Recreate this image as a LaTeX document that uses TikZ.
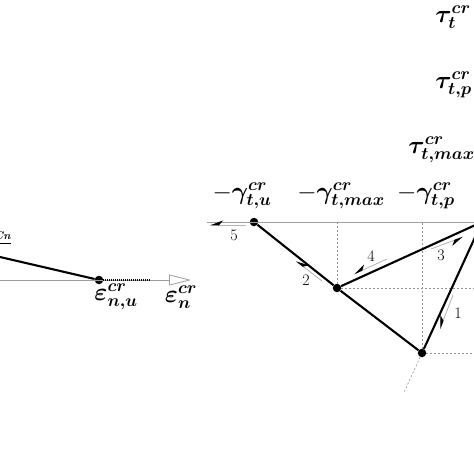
\documentclass[tikz,border=0pt]{standalone}
\usepackage{amsmath}
\usepackage{bm}
\usetikzlibrary{arrows.meta}
\usetikzlibrary{calc}
\tikzset{
    axisline/.style = {draw=gray!75,line width=0.8pt},
    branch/.style = {draw=black,line width=2.1pt},
    guide/.style = {draw=gray!85,line width=0.6pt,dash pattern=on 2pt off 2pt},
    kink/.style = {circle,fill=black,inner sep=0pt,minimum size=8.5pt},
    patharrow/.style = {draw=gray!60,line width=0.8pt,-{Stealth[harpoon,swap,length=12pt,width=9pt,black]}},
    lab/.style = {inner sep=0pt,font=\fontsize{27}{29}\selectfont},
    num/.style = {inner sep=0pt,font=\fontsize{16}{18}\selectfont},
}

\begin{document}
\begin{tikzpicture}[x=1pt,y=-1pt]
\useasboundingbox (0,0) rectangle (474,474);
\clip (0,0) rectangle (474,474);
% left graph
\node[kink] at (99,280) (nu) {};
\coordinate (n0) at (0,257);
\coordinate (ax0) at (0,280);
\coordinate (axe) at (191,280);
\coordinate (dotend) at (150,280);
\draw[axisline,-{Triangle[open,length=22pt,width=11pt,fill=white]}] (ax0) -- (axe);
\draw[line width=2.4pt,dash pattern=on 1pt off 1pt] (nu) -- (dotend);
\draw[branch] (n0) -- (nu);
\node[lab] at (116,297) (lnu) {$\bm{\varepsilon}^{\bm{cr}}_{\bm{n,u}}$};
\node[lab] at (181,297) (ln) {$\bm{\varepsilon}^{\bm{cr}}_{\bm{n}}$};
\node[inner sep=0pt,anchor=east,font=\fontsize{11}{12}\selectfont] at (11,236) (gcn) {\textbf{\textit{Cn}}};
\coordinate (bar0) at (0,243);
\coordinate (bar1) at (11,243);
\draw[line width=0.7pt] (bar0) -- (bar1);

% right graph
\node[kink] at (254,222) (A) {};
\node[kink] at (337,288) (B) {};
\node[kink] at (422,353) (C) {};
\coordinate (P) at (482,222);
\coordinate (t0) at (207,222);
\coordinate (t1) at (474,222);
\coordinate (Bx) at (337,222);
\coordinate (Cx) at (422,222);
\coordinate (Br) at (474,288);
\coordinate (Cr) at (474,353);
\draw[axisline] (t0) -- (t1);
\draw[guide] (B) -- (Bx);
\draw[guide] (C) -- (Cx);
\draw[guide] (B) -- (Br);
\draw[guide] (C) -- (Cr);
\draw[guide] (C) -- ($(C)!-0.3!(P)$);
\draw[branch] (A) -- (B) -- (C) -- (P);
\draw[branch] (B) -- (P);
\node[lab] at (242,196) (gu) {$-\bm{\gamma}^{\bm{cr}}_{\bm{t,u}}$};
\node[lab] at (341,196) (gm) {$-\bm{\gamma}^{\bm{cr}}_{\bm{t,max}}$};
\node[lab] at (426,196) (gp) {$-\bm{\gamma}^{\bm{cr}}_{\bm{t,p}}$};
\node[lab,anchor=east] at (471,17) (tt) {$\bm{\tau}^{\bm{cr}}_{\bm{t}}$};
\node[lab,anchor=east] at (472,85) (tp) {$\bm{\tau}^{\bm{cr}}_{\bm{t,p}}$};
\node[lab,anchor=east] at (475,150) (tm) {$\bm{\tau}^{\bm{cr}}_{\bm{t,max}}$};

% loading path
\coordinate (a5s) at (246,225); \coordinate (a5e) at (210,225);
\coordinate (a2s) at (322,281); \coordinate (a2e) at (296,261);
\coordinate (a4s) at (387,259); \coordinate (a4e) at (354,274);
\coordinate (a3s) at (431,249); \coordinate (a3e) at (463,237);
\coordinate (a1s) at (453,295); \coordinate (a1e) at (440,329);
\draw[patharrow] (a5s) -- (a5e);
\draw[patharrow] (a2s) -- (a2e);
\draw[patharrow] (a4s) -- (a4e);
\draw[patharrow] (a3s) -- (a3e);
\draw[patharrow] (a1s) -- (a1e);
\node[num] at (234,235) (n5) {5};
\node[num] at (306,280) (n2) {2};
\node[num] at (371,256) (n4) {4};
\node[num] at (441,255) (n3) {3};
\node[num] at (458,313) (n1) {1};
\end{tikzpicture}
\end{document}
